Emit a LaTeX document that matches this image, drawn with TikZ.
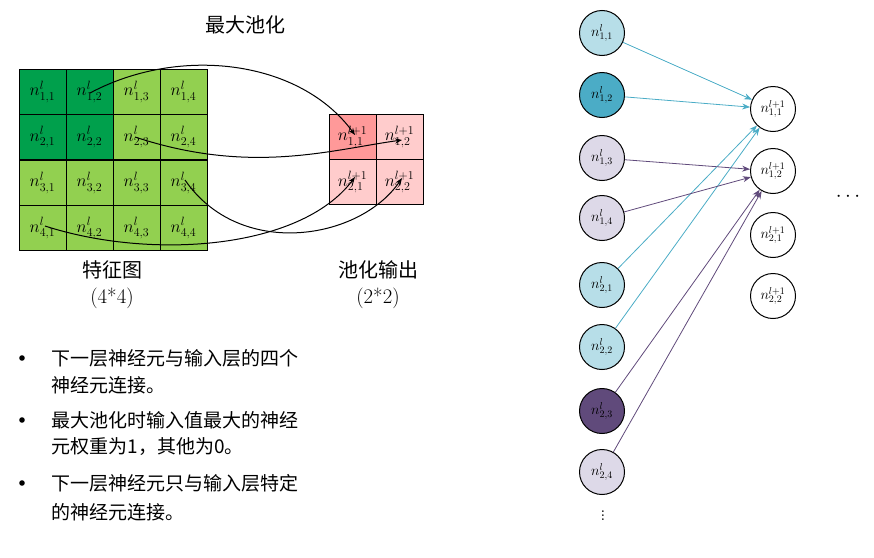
\documentclass[tikz,border=0pt]{standalone}
\usepackage{fontspec}
\newfontfamily\cjk{Noto Sans CJK SC}
\usetikzlibrary{arrows.meta}
\definecolor{dg}{HTML}{00A04C}
\definecolor{lg}{HTML}{92D050}
\definecolor{pk}{HTML}{FF9999}
\definecolor{lpk}{HTML}{FFCCCC}
\definecolor{lb}{HTML}{B7DEE8}
\definecolor{tl}{HTML}{4BACC6}
\definecolor{lv}{HTML}{DDD9E8}
\definecolor{pu}{HTML}{604A7B}
\begin{document}
\begin{tikzpicture}[x=1pt,y=-1pt,
 cell/.style={draw,line width=1pt,minimum width=47pt,minimum height=45pt,inner sep=0pt,font=\LARGE},
 neu/.style={circle,draw,line width=1pt,minimum size=45pt,inner sep=0pt,font=\Large},
 lab/.style={font=\cjk\fontsize{20}{24}\selectfont},
 txt/.style={font=\cjk\fontsize{19}{22}\selectfont,anchor=west},
 ca/.style={-{Stealth[length=7pt]},line width=1pt},
 ta/.style={-{Stealth[length=8pt]},line width=0.8pt,tl},
 pa/.style={-{Stealth[length=8pt]},line width=0.8pt,pu}]
\useasboundingbox (0,0) rectangle (874,557);
\node[lab] (title) at (245,25) {最大池化};
\foreach \r in {1,...,4}{\foreach \c in {1,...,4}{
 \pgfmathsetmacro\col{(\r<3 && \c<3)?1:0}
 \ifdim\col pt>0.5pt \def\fc{dg}\else\def\fc{lg}\fi
 \node[cell,fill=\fc] (g\r\c) at ({19+47*(\c-0.5)},{69+45.5*(\r-0.5)}) {$n^{l}_{\r,\c}$};}}
\foreach \r in {1,2}{\foreach \c in {1,2}{
 \ifnum\r\c=11 \def\fc{pk}\else\def\fc{lpk}\fi
 \node[cell,fill=\fc] (o\r\c) at ({329+47*(\c-0.5)},{114+45.5*(\r-0.5)}) {$n^{l+1}_{\r,\c}$};}}
\node[lab] (l1) at (112,270) {特征图};
\node[font=\huge] (l2) at (112,298) {(4*4)};
\node[lab] (l3) at (378,270) {池化输出};
\node[font=\huge] (l4) at (378,298) {(2*2)};
\draw[ca] (90,93) .. controls (180,45) and (300,60) .. (355,135);
\draw[ca] (135,137) .. controls (250,175) and (330,150) .. (402,140);
\draw[ca] (185,180) .. controls (240,260) and (360,240) .. (402,178);
\draw[ca] (45,226) .. controls (150,260) and (300,250) .. (355,177);
\foreach \y/\t in {358/{下一层神经元与输入层的四个},385/{神经元连接。},420/{最大池化时输入值最大的神经},447/{元权重为1，其他为0。},483/{下一层神经元只与输入层特定},512/{的神经元连接。}}
 \node[txt] at (48,\y) {\t};
\foreach \y in {358,420,483} \fill (22,\y) circle (2.8pt);
\foreach \n/\y/\lab/\fc in {a/33/{1,1}/lb,b/95/{1,2}/tl,c/158/{1,3}/lv,d/218/{1,4}/lv,e/285/{2,1}/lb,f/347/{2,2}/lb,g/411/{2,3}/pu,h/472/{2,4}/lv}
 \node[neu,fill=\fc] (\n) at (602,\y) {$n^{l}_{\lab}$};
\foreach \n/\y/\lab in {p/109/{1,1},q/171/{1,2},r/235/{2,1},s/296/{2,2}}
 \node[neu] (\n) at (773,\y) {$n^{l+1}_{\lab}$};
\foreach \n in {a,b,e,f} \draw[ta] (\n) -- (p);
\foreach \n in {c,d,g,h} \draw[pa] (\n) -- (q);
\node[font=\huge,inner sep=0pt] (vd) at (603,513) {$\vdots$};
\node[font=\huge,inner sep=0pt] (hd) at (848,197) {$\cdots$};
\end{tikzpicture}
\end{document}
